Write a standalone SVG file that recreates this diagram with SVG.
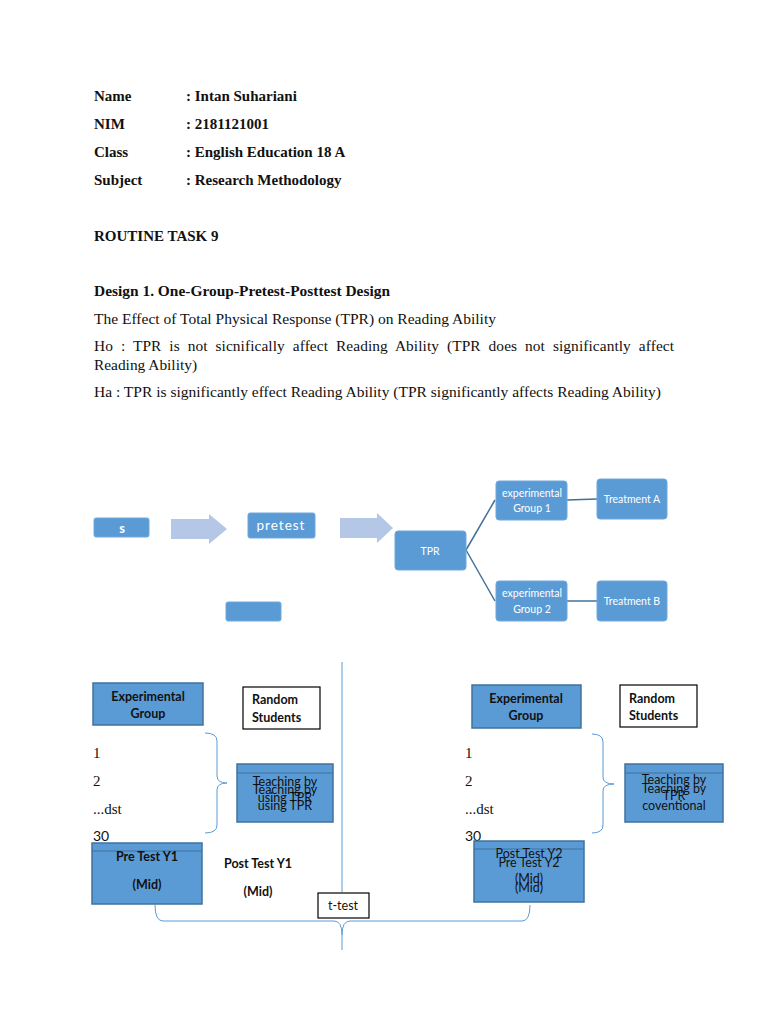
<svg xmlns="http://www.w3.org/2000/svg" width="768" height="1024" viewBox="0 0 768 1024">
<style>
.doc{font-family:"Liberation Serif","Times New Roman",serif;font-size:15px;fill:#111}
.b{font-weight:bold}
.flow{fill:#5B9BD5;stroke:#6FA8DC;stroke-width:1}
.ft{font-family:Lato,"Liberation Sans",sans-serif;font-size:10.5px;fill:#fff;text-anchor:middle}
.arrow{fill:#B4C7E7}
.conn{stroke:#41719C;stroke-width:1.5;fill:none}
.box{fill:#5B9BD5;stroke:#41719C;stroke-width:1.5}
.wbox{fill:#fff;stroke:#000;stroke-width:1.2}
.hl{stroke:#41719C;stroke-width:1}
.bt{font-family:Lato,"Liberation Sans",sans-serif;font-size:12.5px;font-weight:bold;fill:#111;text-anchor:middle}
.lt{font-family:Lato,"Liberation Sans",sans-serif;font-size:12.5px;font-weight:bold;fill:#111}
.brace{stroke:#5B9BD5;stroke-width:1;fill:none}
.num{font-family:"Liberation Serif","Times New Roman",serif;font-size:15px;fill:#111}
</style>
<rect width="768" height="1024" fill="#fff"/>
<g id="header">
<text class="doc b" x="94" y="101">Name</text>
<text class="doc b" x="186" y="101">: Intan Suhariani</text>
<text class="doc b" x="94" y="129">NIM</text>
<text class="doc b" x="186" y="129">: 2181121001</text>
<text class="doc b" x="94" y="157">Class</text>
<text class="doc b" x="186" y="157">: English Education 18 A</text>
<text class="doc b" x="94" y="185">Subject</text>
<text class="doc b" x="186" y="185">: Research Methodology</text>
<text class="doc b" x="94" y="241">ROUTINE TASK 9</text>
<text class="doc b" x="94" y="296" textLength="296" lengthAdjust="spacingAndGlyphs">Design 1. One-Group-Pretest-Posttest Design</text>
<text class="doc" x="94" y="324" textLength="402" lengthAdjust="spacingAndGlyphs">The Effect of Total Physical Response (TPR) on Reading Ability</text>
<text class="doc" x="94" y="351" style="font-size:15.4px;word-spacing:4px" textLength="580" lengthAdjust="spacing">Ho : TPR is not sicnifically affect Reading Ability (TPR does not significantly affect</text>
<text class="doc" x="94" y="370" style="font-size:15.4px">Reading Ability)</text>
<text class="doc" x="94" y="397" textLength="567" lengthAdjust="spacingAndGlyphs">Ha : TPR is significantly effect Reading Ability (TPR significantly affects Reading Ability)</text>
</g>
<g id="connectors">
<polygon class="arrow" points="171,519 209,519 209,514 227,529 209,544 209,539 171,539"/>
<polygon class="arrow" points="340,518 377,518 377,513 393,528 377,543 377,538 340,538"/>
<path class="conn" d="M466,550 L495,500 M466,550 L495,601 M567,500 L597,499 M567,601 L597,601"/>
<path class="brace" d="M342,662 L342,892"/>
<path class="brace" d="M205,733 Q217,733 217,741 L217,776 Q217,783 227,783 Q217,783 217,790 L217,825 Q217,833 205,833"/>
<path class="brace" d="M592,734 Q603,734 603,742 L603,777 Q603,784 614,784 Q603,784 603,791 L603,825 Q603,833 592,833"/>
<path class="brace" d="M155,905 Q155,921 163,921 L334,921 Q342,921 342,935 L342,950 M342,935 Q342,921 350,921 L522,921 Q530,921 530,905"/>
</g>
<g id="node-s"><rect class="flow" x="94" y="518" width="55" height="19" rx="2"/><text class="ft" x="122" y="533" style="font-size:13px;font-weight:bold">s</text></g>
<g id="node-pretest"><rect class="flow" x="248" y="513" width="67" height="25" rx="2"/><text class="ft" x="281" y="530" style="font-size:13.5px;letter-spacing:1px">pretest</text></g>
<g id="node-empty"><rect class="flow" x="226" y="602" width="55" height="19" rx="2"/></g>
<g id="node-tpr"><rect class="flow" x="395" y="531" width="71" height="39" rx="3"/><text class="ft" x="430" y="555">TPR</text></g>
<g id="node-group1"><rect class="flow" x="496" y="481" width="71" height="39" rx="3"/><text class="ft" x="532" y="497">experimental</text><text class="ft" x="532" y="512">Group 1</text></g>
<g id="node-treatA"><rect class="flow" x="597" y="479" width="70" height="40" rx="3"/><text class="ft" x="632" y="503">Treatment A</text></g>
<g id="node-group2"><rect class="flow" x="496" y="581" width="71" height="40" rx="3"/><text class="ft" x="532" y="597">experimental</text><text class="ft" x="532" y="613">Group 2</text></g>
<g id="node-treatB"><rect class="flow" x="597" y="581" width="70" height="40" rx="3"/><text class="ft" x="632" y="605">Treatment B</text></g>

<g id="node-expgroup-left"><rect class="box" x="93" y="683" width="110" height="42"/><text class="bt" x="148" y="701">Experimental</text><text class="bt" x="148" y="718">Group</text></g>
<g id="node-random-left"><rect class="wbox" x="243" y="687" width="77" height="42"/><text class="lt" x="252" y="704">Random</text><text class="lt" x="252" y="722">Students</text></g>
<g id="list-left">
<text class="num" x="93" y="758">1</text>
<text class="num" x="93" y="786">2</text>
<text class="num" x="93" y="814">...dst</text>
<text class="num" x="93" y="841" style="font-family:Lato,'Liberation Sans',sans-serif;font-size:14px">30</text>
</g>
<g id="node-teaching-left"><rect class="box" x="237" y="764" width="96" height="58"/><line class="hl" x1="237" y1="773" x2="333" y2="773"/>
<text class="bt" x="285" y="786" style="font-weight:normal">Teaching by</text><text class="bt" x="285" y="794" style="font-weight:normal">Teaching by</text><text class="bt" x="285" y="802" style="font-weight:normal">using TPR</text><text class="bt" x="285" y="810" style="font-weight:normal">using TPR</text></g>
<g id="node-pretest-y1"><rect class="box" x="92" y="843" width="110" height="61"/><line class="hl" x1="92" y1="851" x2="202" y2="851"/><text class="bt" x="147" y="861">Pre Test Y1</text><text class="bt" x="147" y="889">(Mid)</text></g>
<g id="node-posttest-y1"><text class="bt" x="258" y="868">Post Test Y1</text><text class="bt" x="258" y="896">(Mid)</text></g>
<g id="node-ttest"><rect class="wbox" x="318" y="893" width="51" height="25"/><text x="343" y="910" style="font-family:Lato,'Liberation Sans',sans-serif;font-size:12.5px;fill:#111;text-anchor:middle">t-test</text></g>

<g id="node-expgroup-right"><rect class="box" x="472" y="685" width="109" height="43"/><text class="bt" x="526" y="703">Experimental</text><text class="bt" x="526" y="720">Group</text></g>
<g id="node-random-right"><rect class="wbox" x="620" y="685" width="77" height="42"/><text class="lt" x="629" y="703">Random</text><text class="lt" x="629" y="720">Students</text></g>
<g id="list-right">
<text class="num" x="465" y="758">1</text>
<text class="num" x="465" y="786">2</text>
<text class="num" x="465" y="814">...dst</text>
<text class="num" x="465" y="841" style="font-family:Lato,'Liberation Sans',sans-serif;font-size:14px">30</text>
</g>
<g id="node-teaching-right"><rect class="box" x="625" y="764" width="98" height="58"/><line class="hl" x1="625" y1="773" x2="723" y2="773"/>
<text class="bt" x="674" y="784" style="font-weight:normal">Teaching by</text><text class="bt" x="674" y="793" style="font-weight:normal">Teaching by</text><text class="bt" x="674" y="800" style="font-weight:normal">TPR</text><text class="bt" x="674" y="810" style="font-weight:normal">coventional</text></g>
<g id="node-test-y2"><rect class="box" x="474" y="841" width="110" height="61"/><line class="hl" x1="474" y1="849" x2="584" y2="849"/><text class="bt" x="529" y="858" style="font-weight:normal">Post Test Y2</text><text class="bt" x="529" y="867" style="font-weight:normal">Pre Test Y2</text><text class="bt" x="529" y="883" style="font-weight:normal">(Mid)</text><text class="bt" x="529" y="892" style="font-weight:normal">(Mid)</text></g>
</svg>
